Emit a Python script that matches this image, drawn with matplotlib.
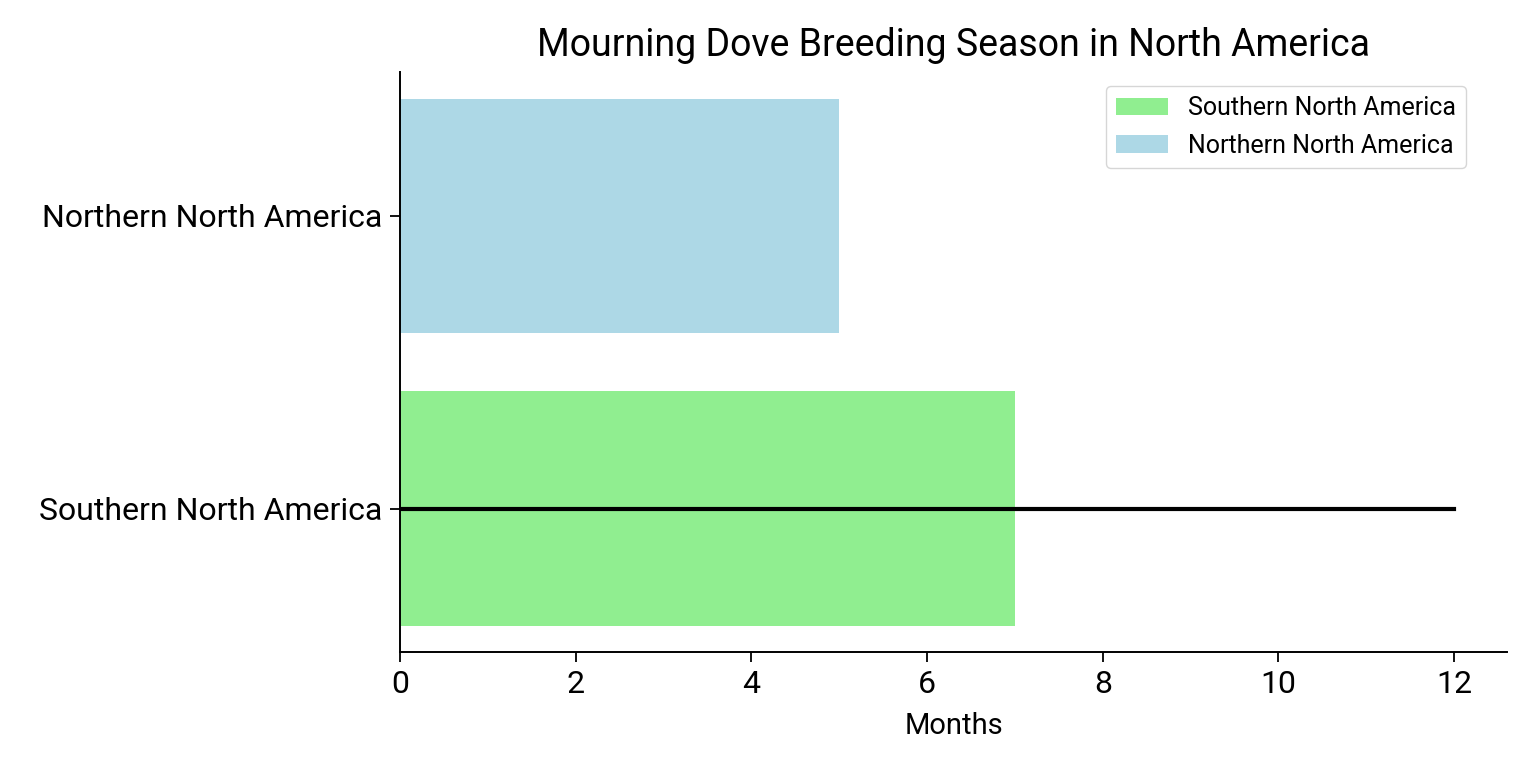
import numpy as np
import matplotlib
matplotlib.use("Agg")
import matplotlib.pyplot as plt

plt.rcParams['font.family'] = ['Roboto', 'DejaVu Sans']

regions = ['Southern North America', 'Northern North America']
months = [7, 5]
colors = ['lightgreen', 'lightblue']
line_x = [0, 12]
line_y = [0, 0]

fig = plt.figure(figsize=(15.36, 7.68), dpi=100)
ax = fig.add_axes([0.2605, 0.151, 0.7205, 0.755])

for r, m, c in zip(regions, months, colors):
    ax.barh(r, m, color=c, label=r)
ax.plot(line_x, line_y, color='black', lw=3)

ax.set_title('Mourning Dove Breeding Season in North America', fontsize=27, pad=12)
ax.set_xlabel('Months', fontsize=21, labelpad=9)
ax.tick_params(axis='both', labelsize=23, length=7, width=1.3, pad=6)
for s in ['left', 'bottom']:
    ax.spines[s].set_linewidth(1.4)
ax.spines['top'].set_visible(False)
ax.spines['right'].set_visible(False)
ax.legend(fontsize=18, loc='upper right', bbox_to_anchor=(1466 / 1536, 1 - 86 / 768),
          bbox_transform=fig.transFigure, labelspacing=0.55, handlelength=2.1,
          borderaxespad=0)

fig.savefig('out.png', dpi=100)
